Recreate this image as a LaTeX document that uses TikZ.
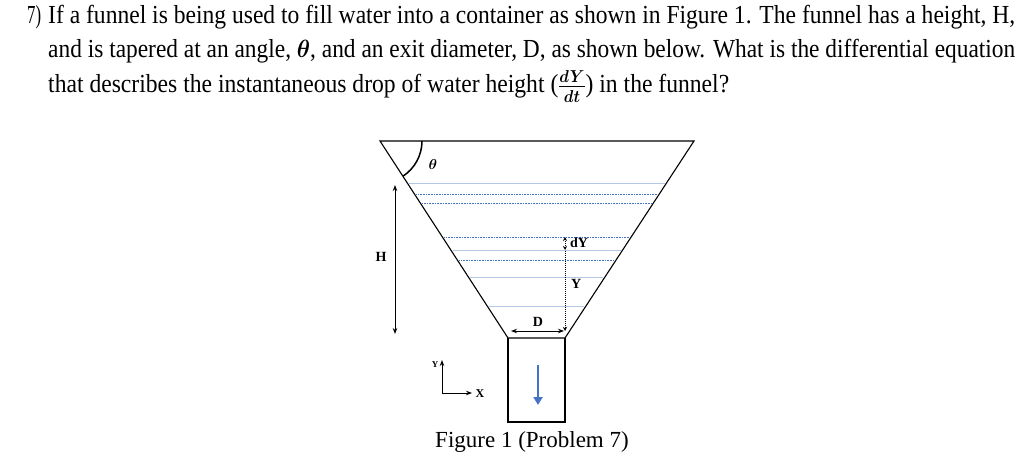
\documentclass[tikz,border=0pt]{standalone}
\usepackage{amsmath}
\usepackage{fontspec}
\setmainfont{Liberation Serif}
\usepackage{graphicx}
\usetikzlibrary{arrows.meta,calc}
\definecolor{wblue}{RGB}{68,114,196}
\begin{document}
\begin{tikzpicture}[x=1pt,y=-1pt,
  txt/.style={anchor=base west,inner sep=0pt,font=\fontsize{26}{26}\selectfont},
  lab/.style={inner sep=0pt,font=\fontsize{14}{14}\selectfont\bfseries},
  water/.style={wblue,densely dotted,line width=0.6pt},
  waterl/.style={wblue!40,line width=0.6pt},
  dd/.style={<->,>={Stealth[length=6pt,width=4.5pt]},line width=1pt},
  dim/.style={->,>={Stealth[length=6pt,width=4.5pt]},line width=1pt}]
\useasboundingbox (0,0) rectangle (1024,462);
\node[txt] (n7) at (27,24) {\resizebox{14pt}{\height}{7)}};
\node[txt] (l1) at (48,24) {\resizebox{967pt}{\height}{If a funnel is being used to fill water into a container as shown in Figure 1. The funnel has a height, H,}};
\node[txt] (l2) at (48,58) {\resizebox{967pt}{\height}{and is tapered at an angle, $\boldsymbol{\theta}$, and an exit diameter, D, as shown below. What is the differential equation}};
\node[txt] (l3) at (48,93) {\resizebox{681pt}{\height}{that describes the instantaneous drop of water height ($\boldsymbol{\frac{dY}{dt}}$) in the funnel?}};
% funnel
\coordinate (tl) at (380,141); \coordinate (tr) at (694,141);
\coordinate (nl) at (508,338); \coordinate (nr) at (565,338);
\draw[line width=1.1pt] (tl) -- (tr) -- (nr) -- (nl) -- cycle;
\draw[line width=1.1pt] (nl) -- (508,422) -- (565,422) -- (nr);
\draw[line width=1.5pt] ($(tl)+(42,0)$) arc[start angle=0,end angle=56.9,radius=42];
\node[lab] (th) at (433,165) {$\boldsymbol\theta$};
% water lines
\foreach \y/\s in {183/waterl,194/water,203/water,237/water,250/waterl,260/water,277/waterl,306/waterl}{
  \draw[\s] ({380+0.6497*(\y-141)+2},\y) -- ({694-0.6548*(\y-141)-2},\y);
}
% H
\draw[dd] (395,185) -- (395,334);
\node[lab] (H) at (381,257) {H};
% dY, Y
\draw[densely dotted,line width=1pt,<->,>={Stealth[length=4pt,width=4pt]}] (565,237) -- (565,250);
\node[lab,anchor=west] (dY) at (570,243) {dY};
\draw[densely dotted,line width=1pt,->,>={Stealth[length=4pt,width=4pt]}] (565,251) -- (565,331);
\node[lab,anchor=west] (Y) at (571,284) {Y};
% D
\draw[dd] (511,331) -- (564,331);
\node[lab] (D) at (538,322) {D};
% axes
\coordinate (o) at (442,393);
\draw[dim] (o) -- (442,360);
\draw[dim] (o) -- (472,393);
\node[lab,font=\fontsize{9}{9}\selectfont\bfseries] (ay) at (435,365) {Y};
\node[lab,font=\fontsize{12}{12}\selectfont\bfseries] (ax) at (480,394) {X};
% flow arrow
\draw[wblue,line width=2.6pt,-{Triangle[length=8pt,width=9pt]}] (538,365) -- (538,405);
\node[anchor=base,inner sep=0pt,font=\fontsize{23}{23}\selectfont] (cap) at (532,447) {Figure 1 (Problem 7)};
\end{tikzpicture}
\end{document}
